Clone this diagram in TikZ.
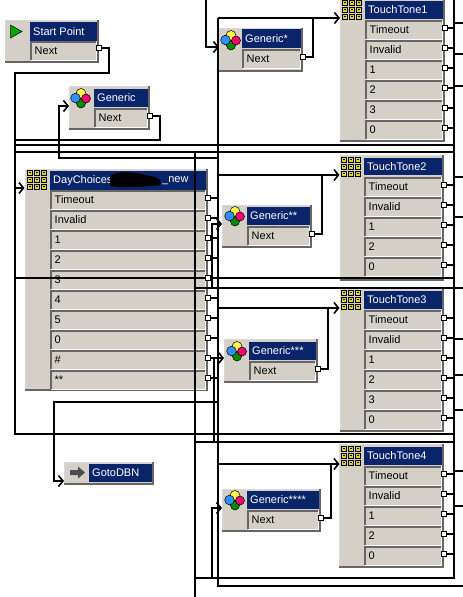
\documentclass[tikz,border=0pt]{standalone}
\usepackage{fontspec}
\setmainfont{Liberation Sans}
\usetikzlibrary{arrows.meta}
\definecolor{panelc}{HTML}{D4D0C8}
\definecolor{navyc}{HTML}{0A246A}
\definecolor{darkc}{HTML}{666666}
\tikzset{
  wire/.style={line width=1.5pt,black,line join=miter},
  inwire/.style={wire,-{Straight Barb[length=4.5pt,width=11pt,line width=1.6pt]}},
  portbox/.style={draw=black,fill=white,line width=1.3pt,minimum size=4.6pt,inner sep=0pt},
  titletext/.style={anchor=west,text=white,inner sep=0pt,font=\fontsize{11}{12}\selectfont},
  rowtext/.style={anchor=west,text=black,inner sep=0pt,font=\fontsize{11}{12}\selectfont},
  panelbox/.style={fill=panelc,draw=none,inner sep=0pt,outer sep=0pt},
}
% #1 name, #2-#5 x1 y1 x2 y2
\newcommand{\panelblock}[5]{%
  \pgfmathsetmacro{\pw}{#4-#2}\pgfmathsetmacro{\ph}{#5-#3}%
  \pgfmathsetmacro{\pcx}{(#2+#4)/2}\pgfmathsetmacro{\pcy}{(#3+#5)/2}%
  \node[panelbox,minimum width=\pw pt,minimum height=\ph pt] (#1) at (\pcx,\pcy) {};
  \draw[white!85!black,line width=1pt] (#1.south west) -- (#1.north west) -- (#1.north east);
  \draw[darkc,line width=1.2pt] (#1.south west) -- (#1.south east) -- (#1.north east);
}
% #1 name, #2-#5 box, #6 text
\newcommand{\titlebar}[6]{%
  \fill[navyc] (#2,#3) rectangle (#4,#5);
  \pgfmathsetmacro{\tcy}{(#3+#5)/2}\pgfmathsetmacro{\tx}{#2+3}%
  \node[titletext] (#1) at (\tx,\tcy) {#6};
}
% #1 name, #2 x1, #3 x2, #4 centre y, #5 text
\newcommand{\rowcell}[5]{%
  \pgfmathsetmacro{\rowtop}{#4-9}\pgfmathsetmacro{\rowbot}{#4+9}\pgfmathsetmacro{\rowx}{#2+3.5}%
  \draw[white,line width=1pt] (#2,\rowbot) -- (#3,\rowbot) -- (#3,\rowtop);
  \draw[darkc,line width=1.2pt] (#2,\rowbot) -- (#2,\rowtop) -- (#3,\rowtop);
  \node[rowtext] (#1) at (\rowx,#4) {#5};
}
\newcommand{\gridicon}[2]{%
  \begin{scope}[shift={(#1,#2)}]
    \foreach \ci in {0,1,2}{\foreach \cj in {0,1,2}{
      \pgfmathsetmacro{\ca}{\ci*7.2}\pgfmathsetmacro{\cb}{\cj*7}%
      \path[fill=yellow!85!black,draw=black,line width=0.9pt] (\ca,\cb) rectangle ++(5.4,5.2);
      \fill[black] (\ca+1.9,\cb+1.9) rectangle ++(1.7,1.5);
    }}
  \end{scope}
}
\newcommand{\flowericon}[2]{%
  \begin{scope}[shift={(#1,#2)}]
    \draw[black,line width=0.5pt,fill=yellow!70!white] (1,-4.5) circle (5pt);
    \draw[black,line width=0.5pt,fill=green!55!black] (1,5.5) circle (4.5pt);
    \draw[black,line width=0.5pt,fill=magenta!70!red] (6,0.5) circle (4.5pt);
    \draw[black,line width=0.5pt,fill=blue!55!cyan!80!white] (-4.5,0) circle (4.8pt);
  \end{scope}
}
\begin{document}
\begin{tikzpicture}[x=1pt,y=-1pt]
\useasboundingbox (0,0) rectangle (463,597);
\clip (0,0) rectangle (463,597);
\fill[white] (0,0) rectangle (463,597);

% ---------- blocks ----------
\panelblock{startb}{5}{20}{98}{62}
\titlebar{startt}{30}{22}{97}{41}{Start Point}
\rowcell{startn}{31}{96}{51}{Next}
\fill[green!65!black,draw=black,line width=0.5pt] (10.5,25) -- (22,31.5) -- (10.5,38) -- cycle;

\panelblock{genb}{69}{86}{149}{129}
\titlebar{gent}{94}{89}{148}{107}{Generic}
\rowcell{genn}{95}{147}{118}{Next}
\flowericon{80}{98}

\panelblock{g1b}{219}{28}{302}{71}
\titlebar{g1t}{242}{29}{301}{48}{Generic*}
\rowcell{g1n}{243}{300}{59}{Next}
\flowericon{230}{40}

\panelblock{g2b}{222}{205}{311}{247}
\titlebar{g2t}{247}{207}{310}{225}{Generic**}
\rowcell{g2n}{248}{309}{236}{Next}
\flowericon{234}{216}

\panelblock{g3b}{224}{339}{317}{382}
\titlebar{g3t}{249}{342}{316}{360}{Generic***}
\rowcell{g3n}{250}{315}{371}{Next}
\flowericon{236}{351}

\panelblock{g4b}{222}{489}{320}{531}
\titlebar{g4t}{247}{491}{319}{509}{Generic****}
\rowcell{g4n}{248}{318}{520}{Next}
\flowericon{234}{500}

\panelblock{gotob}{64}{462}{153}{484}
\titlebar{gotot}{89}{464}{152}{482}{GotoDBN}
\fill[black!70] (70,470) -- (78,470) -- (78,466.5) -- (85,472.5) -- (78,478.5) -- (78,475) -- (70,475) -- cycle;

% DayChoices
\panelblock{dayb}{25}{169}{207}{390}
\titlebar{dayt}{50}{171}{206}{190}{DayChoices.}
\node[titletext] (dayn) at (162,180.5) {\_new};
\fill[black] (110,176) .. controls (118,170) and (135,172) .. (150,176) .. controls (160,177) and (163,182) .. (160,185) .. controls (145,187) and (120,188) .. (110,186) -- cycle;
\foreach \rn/\rc/\lbl in {1/200/Timeout,2/220/Invalid,3/240/1,4/260/2,5/280/3,6/300/4,7/320/5,8/340/0,9/360/\#,10/380/**}
  {\rowcell{dr\rn}{51}{205}{\rc}{\lbl}}
\gridicon{27}{170}

% TouchTone 1
\panelblock{t1b}{340}{-1}{444}{141}
\titlebar{t1t}{365}{1}{443}{19}{TouchTone1}
\foreach \rn/\rc/\lbl in {1/30/Timeout,2/50/Invalid,3/70/1,4/90/2,5/110/3,6/130/0}
  {\rowcell{t1r\rn}{366}{442}{\rc}{\lbl}}
\gridicon{342}{0}

% TouchTone 2
\panelblock{t2b}{340}{155}{443}{280}
\titlebar{t2t}{364}{158}{442}{175}{TouchTone2}
\foreach \rn/\rc/\lbl in {1/187/Timeout,2/207/Invalid,3/227/1,4/247/2,5/267/0}
  {\rowcell{t2r\rn}{365}{441}{\rc}{\lbl}}
\gridicon{341}{157}

% TouchTone 3
\panelblock{t3b}{340}{289}{443}{431}
\titlebar{t3t}{364}{291}{442}{309}{TouchTone3}
\foreach \rn/\rc/\lbl in {1/320/Timeout,2/340/Invalid,3/360/1,4/380/2,5/400/3,6/420/0}
  {\rowcell{t3r\rn}{365}{441}{\rc}{\lbl}}
\gridicon{341}{290}

% TouchTone 4
\panelblock{t4b}{339}{444}{443}{567}
\titlebar{t4t}{364}{447}{442}{465}{TouchTone4}
\foreach \rn/\rc/\lbl in {1/476/Timeout,2/496/Invalid,3/516/1,4/536/2,5/556/0}
  {\rowcell{t4r\rn}{365}{441}{\rc}{\lbl}}
\gridicon{341}{446}

% ---------- ports (positions) ----------
\coordinate (startp) at (99,48);
\coordinate (genp) at (150,116);
\coordinate (g1p) at (303,57);
\coordinate (g2p) at (312,234);
\coordinate (g3p) at (318,369);
\coordinate (g4p) at (321,518);
\foreach \pn/\py in {1/198,2/218,3/238,4/258,5/278,6/298,7/318,8/338,9/358,10/378}
  \coordinate (dp\pn) at (208,\py);
\foreach \pn/\py in {1/28,2/48,3/68,4/88,5/108,6/128}
  \coordinate (t1p\pn) at (445,\py);
\foreach \pn/\py in {1/185,2/205,3/225,4/245,5/265}
  \coordinate (t2p\pn) at (444,\py);
\foreach \pn/\py in {1/318,2/338,3/358,4/378,5/398,6/418}
  \coordinate (t3p\pn) at (444,\py);
\foreach \pn/\py in {1/474,2/494,3/514,4/534,5/554}
  \coordinate (t4p\pn) at (444,\py);

% ---------- rails and entry points ----------
\coordinate (railL) at (15,73);
\coordinate (railM) at (195,152);
\coordinate (railC) at (218,18);
\coordinate (railR) at (454,-2);
\coordinate (edgeR) at (463,0);
\coordinate (endL) at (15,434);
\coordinate (endM) at (195,597);
\coordinate (endC) at (218,586);
\coordinate (endR) at (454,578);
\coordinate (dayin) at (24.5,188);
\coordinate (genin) at (69,106);
\coordinate (g1in) at (219,47);
\coordinate (g2in) at (222,224);
\coordinate (g3in) at (224,358);
\coordinate (g4in) at (222,508);
\coordinate (t1in) at (340,18);
\coordinate (t2in) at (339.5,175);
\coordinate (t3in) at (339.5,308);
\coordinate (t4in) at (339.5,464);
\coordinate (gotoin) at (64,481);

% ---------- wires ----------
\draw[wire] (startp) -- (109,48) -- (109,73) -- (railL) -- (endL) -- (endL -| railR);
\draw[inwire] (dayin -| railL) -- (dayin);
\draw[wire] (genp) -- (160,116) -- (160,140) -- (15,140);
\draw[wire] (15,145) -- (454,145);
\draw[wire] (15,152) -- (454,152);
\draw[wire] (railM) -- (endM);
\draw[inwire] (218,158) -- (59,158) -- (59,106) -- (genin);
\draw[wire] (railC) -- (endC) -- (endC -| edgeR);
\draw[inwire] (railC) -- (t1in);
\draw[inwire] (206,-2) -- (206,47) -- (g1in);
\draw[wire] (g1p) -- (313,57) -- (313,18);
\draw[inwire] (t2in -| railC) -- (t2in);
\draw[wire] (g2p) -- (322,234) -- (322,175);
\draw[inwire] (212,288) -- (212,224) -- (g2in);
\draw[wire] (15,278) -- (454,278);
\draw[wire] (195,288) -- (463,288);
\draw[inwire] (t3in -| railC) -- (t3in);
\draw[wire] (g3p) -- (328,369) -- (328,308);
\draw[inwire] (214,442) -- (214,358) -- (g3in);
\draw[inwire] (218,402) -- (54,402) -- (54,481) -- (gotoin);
\draw[wire] (195,442) -- (454,442);
\draw[inwire] (t4in -| railC) -- (t4in);
\draw[wire] (g4p) -- (331,518) -- (331,464);
\draw[inwire] (212,578) -- (212,508) -- (g4in);
\draw[wire] (195,578) -- (endR) -- (railR);

% stubs from the ports to the rails
\foreach \pn in {1,...,10} \draw[wire] (dp\pn) -- (dp\pn -| railC);
\foreach \pn in {1,...,6} \draw[wire] (t1p\pn) -- (t1p\pn -| railR);
\foreach \pn in {1,...,5} \draw[wire] (t2p\pn) -- (t2p\pn -| railR);
\foreach \pn in {1,...,6} \draw[wire] (t3p\pn) -- (t3p\pn -| railR);
\foreach \pn in {1,...,5} \draw[wire] (t4p\pn) -- (t4p\pn -| railR);
% stubs leaving the right rail
\foreach \sy in {23,54,86,177,217,339,375,410,471,506}
  \draw[wire] (454,\sy) -- (463,\sy);

% ---------- port squares ----------
\foreach \pp in {startp,genp,g1p,g2p,g3p,g4p}
  \node[portbox] (\pp-box) at (\pp) {};
\foreach \pn in {1,...,10} \node[portbox] (dp\pn-box) at (dp\pn) {};
\foreach \pn in {1,...,6} \node[portbox] (t1p\pn-box) at (t1p\pn) {};
\foreach \pn in {1,...,5} \node[portbox] (t2p\pn-box) at (t2p\pn) {};
\foreach \pn in {1,...,6} \node[portbox] (t3p\pn-box) at (t3p\pn) {};
\foreach \pn in {1,...,5} \node[portbox] (t4p\pn-box) at (t4p\pn) {};
\end{tikzpicture}
\end{document}
